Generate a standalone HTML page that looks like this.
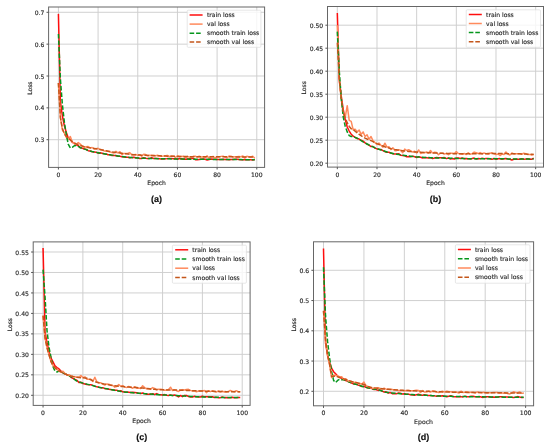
<!DOCTYPE html>
<html><head><meta charset="utf-8"><style>
html,body{margin:0;padding:0;background:#fff;}
svg{display:block;}
text{font-family:'DejaVu Sans', 'Liberation Sans', sans-serif;fill:#2a2a2a;stroke:#2a2a2a;stroke-width:0.15px;text-rendering:geometricPrecision;}
.gr{stroke:#cecece;stroke-width:0.95;}
.sp{fill:none;stroke:#666;stroke-width:1;}
.tk{stroke:#555;stroke-width:1;}
.lg{fill:#fff;fill-opacity:0.8;stroke:#dcdcdc;stroke-width:0.7;}
.sub{font-family:'Liberation Sans',Arial,sans-serif;font-weight:bold;font-size:9px;fill:#111;stroke:#111;stroke-width:0.15px;}
</style></head><body>
<svg width="550" height="445" viewBox="0 0 550 445">
<g><line x1="58.42" y1="7" x2="58.42" y2="167.4" class="gr"/>
<line x1="98.09" y1="7" x2="98.09" y2="167.4" class="gr"/>
<line x1="137.76" y1="7" x2="137.76" y2="167.4" class="gr"/>
<line x1="177.43" y1="7" x2="177.43" y2="167.4" class="gr"/>
<line x1="217.1" y1="7" x2="217.1" y2="167.4" class="gr"/>
<line x1="256.77" y1="7" x2="256.77" y2="167.4" class="gr"/>
<line x1="48.6" y1="139.7" x2="264.6" y2="139.7" class="gr"/>
<line x1="48.6" y1="107.85" x2="264.6" y2="107.85" class="gr"/>
<line x1="48.6" y1="76" x2="264.6" y2="76" class="gr"/>
<line x1="48.6" y1="44.15" x2="264.6" y2="44.15" class="gr"/>
<line x1="48.6" y1="12.3" x2="264.6" y2="12.3" class="gr"/>
<polyline points="58.42,13.89 60.4,101.48 62.39,116 64.37,125.74 66.35,132.39 68.34,138.28 70.32,139.41 72.3,142.2 74.29,143.41 76.27,144.97 78.25,145.56 80.24,147.8 82.22,148.09 84.2,148.99 86.19,149.28 88.17,150.76 90.15,151 92.14,151.76 94.12,151.9 96.1,152.14 98.09,153.14 100.07,152.75 102.05,153.2 104.04,153.68 106.02,153.88 108,154.75 109.99,154.86 111.97,155.44 113.96,155.5 115.94,155.49 117.92,156.19 119.91,156.34 121.89,156.7 123.87,157.01 125.86,157.19 127.84,157.18 129.82,157.77 131.81,157.48 133.79,157.16 135.77,157.64 137.76,158.08 139.74,158.42 141.72,158.45 143.71,157.67 145.69,158.32 147.67,158.62 149.66,158.39 151.64,157.78 153.62,158.52 155.61,158.39 157.59,158.55 159.58,158.81 161.56,159.13 163.54,158.89 165.53,158.87 167.51,158.62 169.49,158.56 171.48,158.56 173.46,158.81 175.44,158.63 177.43,159.23 179.41,158.56 181.39,158.84 183.38,159.16 185.36,158.91 187.34,159.13 189.33,158.73 191.31,158.62 193.29,158.41 195.28,159.69 197.26,159.73 199.24,159.42 201.23,159.21 203.21,158.98 205.2,159.2 207.18,160.04 209.16,159.46 211.15,159.08 213.13,159.31 215.11,159.14 217.1,159.5 219.08,159.51 221.06,159.4 223.05,159.33 225.03,159.43 227.01,159.47 229,159.76 230.98,159.41 232.96,159.52 234.95,159.18 236.93,159.17 238.91,159.54 240.9,159.75 242.88,159.86 244.86,159.5 246.85,159.63 248.83,159.79 250.81,159.67 252.8,159.91 254.78,159.46" fill="none" stroke="#ff0d0d" stroke-width="1.5" stroke-linejoin="round"/>
<polyline points="58.42,83.01 60.4,117.44 62.39,129.78 64.37,133.03 66.35,137.54 68.34,138.89 70.32,136.55 72.3,142.27 74.29,143.49 76.27,144.47 78.25,142.57 80.24,144.16 82.22,146.05 84.2,147.25 86.19,146.77 88.17,146.57 90.15,147.88 92.14,147.51 94.12,148.9 96.1,148.76 98.09,148.33 100.07,149.57 102.05,149.76 104.04,150.92 106.02,150.97 108,151.3 109.99,151.88 111.97,152.54 113.96,152.99 115.94,151.29 117.92,152.91 119.91,151.75 121.89,154.67 123.87,153.45 125.86,153.54 127.84,153.19 129.82,152.63 131.81,154.9 133.79,154.64 135.77,154.52 137.76,155.17 139.74,154.66 141.72,156.27 143.71,154.3 145.69,154.53 147.67,155.64 149.66,155.17 151.64,155.56 153.62,155.17 155.61,155.67 157.59,155.21 159.58,156.07 161.56,156.14 163.54,156.05 165.53,155.83 167.51,155.41 169.49,156.58 171.48,155.98 173.46,156.21 175.44,157.45 177.43,155.71 179.41,156.53 181.39,156.51 183.38,156.34 185.36,157.73 187.34,156.56 189.33,157 191.31,157.47 193.29,156.37 195.28,156.27 197.26,157.09 199.24,156.25 201.23,156.97 203.21,156.73 205.2,157.41 207.18,155.89 209.16,158.33 211.15,156.86 213.13,156.42 215.11,157.99 217.1,156.94 219.08,156.88 221.06,156.37 223.05,156.13 225.03,157.09 227.01,157.65 229,156.08 230.98,156.17 232.96,157.14 234.95,156.68 236.93,156.66 238.91,156.56 240.9,156.77 242.88,156.08 244.86,157.89 246.85,156.3 248.83,156.68 250.81,157.02 252.8,156.23 254.78,158.24" fill="none" stroke="#ff8a5c" stroke-width="1.5" stroke-linejoin="round"/>
<polyline points="58.42,33.96 60.4,79.18 62.39,104.66 64.37,122.18 66.35,134.92 68.34,144.48 70.32,147.98 72.3,147.34 74.29,145.75 76.27,145.43 78.25,146.39 80.24,147.66 82.22,147.98 84.2,148.85 86.19,149.67 88.17,150.37 90.15,150.94 92.14,151.46 94.12,151.92 96.1,152.35 98.09,152.76 100.07,153.15 102.05,153.51 104.04,153.86 106.02,154.19 108,154.51 109.99,154.82 111.97,155.12 113.96,155.4 115.94,155.68 117.92,155.94 119.91,156.2 121.89,156.46 123.87,156.71 125.86,156.95 127.84,157.18 129.82,157.38 131.81,157.56 133.79,157.74 135.77,157.9 137.76,158.01 139.74,158.11 141.72,158.19 143.71,158.27 145.69,158.34 147.67,158.4 149.66,158.46 151.64,158.51 153.62,158.56 155.61,158.61 157.59,158.65 159.58,158.69 161.56,158.73 163.54,158.76 165.53,158.8 167.51,158.83 169.49,158.86 171.48,158.89 173.46,158.91 175.44,158.94 177.43,158.97 179.41,159 181.39,159.02 183.38,159.05 185.36,159.08 187.34,159.1 189.33,159.13 191.31,159.15 193.29,159.18 195.28,159.2 197.26,159.23 199.24,159.25 201.23,159.27 203.21,159.29 205.2,159.31 207.18,159.33 209.16,159.35 211.15,159.37 213.13,159.39 215.11,159.41 217.1,159.43 219.08,159.44 221.06,159.46 223.05,159.48 225.03,159.49 227.01,159.51 229,159.53 230.98,159.54 232.96,159.56 234.95,159.57 236.93,159.59 238.91,159.6 240.9,159.62 242.88,159.63 244.86,159.64 246.85,159.66 248.83,159.67 250.81,159.68 252.8,159.69 254.78,159.7" fill="none" stroke="#05961c" stroke-width="1.5" stroke-dasharray="4.6,1.9" stroke-linejoin="round"/>
<polyline points="58.42,83.01 60.4,117.4 62.39,128.55 64.37,133.97 66.35,136.51 68.34,138.4 70.32,140.02 72.3,141.56 74.29,142.88 76.27,143.95 78.25,144.8 80.24,145.47 82.22,146.07 84.2,146.61 86.19,147.08 88.17,147.5 90.15,147.87 92.14,148.18 94.12,148.47 96.1,148.76 98.09,149.1 100.07,149.48 102.05,149.91 104.04,150.35 106.02,150.78 108,151.17 109.99,151.52 111.97,151.85 113.96,152.17 115.94,152.48 117.92,152.76 119.91,153.03 121.89,153.28 123.87,153.52 125.86,153.75 127.84,153.97 129.82,154.19 131.81,154.41 133.79,154.64 135.77,154.84 137.76,154.99 139.74,155.1 141.72,155.2 143.71,155.29 145.69,155.37 147.67,155.45 149.66,155.52 151.64,155.58 153.62,155.65 155.61,155.72 157.59,155.78 159.58,155.86 161.56,155.93 163.54,156 165.53,156.08 167.51,156.15 169.49,156.21 171.48,156.28 173.46,156.33 175.44,156.38 177.43,156.42 179.41,156.46 181.39,156.49 183.38,156.52 185.36,156.56 187.34,156.59 189.33,156.62 191.31,156.64 193.29,156.67 195.28,156.69 197.26,156.72 199.24,156.74 201.23,156.75 203.21,156.77 205.2,156.78 207.18,156.79 209.16,156.8 211.15,156.81 213.13,156.82 215.11,156.82 217.1,156.83 219.08,156.84 221.06,156.84 223.05,156.85 225.03,156.86 227.01,156.86 229,156.87 230.98,156.87 232.96,156.87 234.95,156.88 236.93,156.88 238.91,156.89 240.9,156.89 242.88,156.89 244.86,156.89 246.85,156.9 248.83,156.9 250.81,156.9 252.8,156.9 254.78,156.9" fill="none" stroke="#c4561a" stroke-width="1.5" stroke-dasharray="4.6,1.9" stroke-linejoin="round"/>
<rect x="48.6" y="7" width="216" height="160.4" class="sp"/>
<line x1="58.42" y1="167.4" x2="58.42" y2="169.5" class="tk"/>
<text x="58.42" y="176.8" text-anchor="middle" font-size="6.05">0</text>
<line x1="98.09" y1="167.4" x2="98.09" y2="169.5" class="tk"/>
<text x="98.09" y="176.8" text-anchor="middle" font-size="6.05">20</text>
<line x1="137.76" y1="167.4" x2="137.76" y2="169.5" class="tk"/>
<text x="137.76" y="176.8" text-anchor="middle" font-size="6.05">40</text>
<line x1="177.43" y1="167.4" x2="177.43" y2="169.5" class="tk"/>
<text x="177.43" y="176.8" text-anchor="middle" font-size="6.05">60</text>
<line x1="217.1" y1="167.4" x2="217.1" y2="169.5" class="tk"/>
<text x="217.1" y="176.8" text-anchor="middle" font-size="6.05">80</text>
<line x1="256.77" y1="167.4" x2="256.77" y2="169.5" class="tk"/>
<text x="256.77" y="176.8" text-anchor="middle" font-size="6.05">100</text>
<line x1="46.5" y1="139.7" x2="48.6" y2="139.7" class="tk"/>
<text x="44.3" y="142.3" text-anchor="end" font-size="6.05">0.3</text>
<line x1="46.5" y1="107.85" x2="48.6" y2="107.85" class="tk"/>
<text x="44.3" y="110.45" text-anchor="end" font-size="6.05">0.4</text>
<line x1="46.5" y1="76" x2="48.6" y2="76" class="tk"/>
<text x="44.3" y="78.6" text-anchor="end" font-size="6.05">0.5</text>
<line x1="46.5" y1="44.15" x2="48.6" y2="44.15" class="tk"/>
<text x="44.3" y="46.75" text-anchor="end" font-size="6.05">0.6</text>
<line x1="46.5" y1="12.3" x2="48.6" y2="12.3" class="tk"/>
<text x="44.3" y="14.9" text-anchor="end" font-size="6.05">0.7</text>
<text x="156.6" y="185.3" text-anchor="middle" font-size="6.05">Epoch</text>
<text transform="translate(31.6,88.2) rotate(-90)" x="0" y="0" text-anchor="middle" font-size="6.05">Loss</text>
<rect x="187.2" y="10.2" width="73.7" height="37.1" rx="1" class="lg"/>
<line x1="189.6" y1="15" x2="202.6" y2="15" stroke="#ff0d0d" stroke-width="1.5"/>
<text x="207" y="17.1" font-size="6.05">train loss</text>
<line x1="189.6" y1="24.1" x2="202.6" y2="24.1" stroke="#ff8a5c" stroke-width="1.5"/>
<text x="207" y="26.2" font-size="6.05">val loss</text>
<line x1="189.6" y1="33.2" x2="202.6" y2="33.2" stroke="#05961c" stroke-width="1.5" stroke-dasharray="4.6,1.9"/>
<text x="207" y="35.3" font-size="6.05">smooth train loss</text>
<line x1="189.6" y1="42.1" x2="202.6" y2="42.1" stroke="#c4561a" stroke-width="1.5" stroke-dasharray="4.6,1.9"/>
<text x="207" y="44.2" font-size="6.05">smooth val loss</text>
<text x="156.6" y="202.1" text-anchor="middle" class="sub">(a)</text></g>
<g><line x1="337.32" y1="6.5" x2="337.32" y2="167.1" class="gr"/>
<line x1="376.99" y1="6.5" x2="376.99" y2="167.1" class="gr"/>
<line x1="416.66" y1="6.5" x2="416.66" y2="167.1" class="gr"/>
<line x1="456.33" y1="6.5" x2="456.33" y2="167.1" class="gr"/>
<line x1="496" y1="6.5" x2="496" y2="167.1" class="gr"/>
<line x1="535.67" y1="6.5" x2="535.67" y2="167.1" class="gr"/>
<line x1="327.5" y1="163.2" x2="543.5" y2="163.2" class="gr"/>
<line x1="327.5" y1="140.2" x2="543.5" y2="140.2" class="gr"/>
<line x1="327.5" y1="117.2" x2="543.5" y2="117.2" class="gr"/>
<line x1="327.5" y1="94.2" x2="543.5" y2="94.2" class="gr"/>
<line x1="327.5" y1="71.2" x2="543.5" y2="71.2" class="gr"/>
<line x1="327.5" y1="48.2" x2="543.5" y2="48.2" class="gr"/>
<line x1="327.5" y1="25.2" x2="543.5" y2="25.2" class="gr"/>
<polyline points="337.32,13.01 339.3,80.24 341.29,96.46 343.27,109.61 345.25,119.6 347.24,126.99 349.22,131.03 351.2,134.2 353.19,136.08 355.17,137.36 357.15,138.61 359.14,139.01 361.12,140.28 363.1,141.18 365.09,142.89 367.07,144.12 369.05,145.19 371.04,146.53 373.02,146.51 375,148.12 376.99,148.92 378.97,149.29 380.95,149.4 382.94,150.56 384.92,151.69 386.9,152.19 388.89,152.25 390.87,153.04 392.86,153.73 394.84,153.95 396.82,153.96 398.81,153.84 400.79,155.36 402.77,155.45 404.76,155.82 406.74,156.7 408.72,156.42 410.71,156.7 412.69,156.13 414.67,156.78 416.66,157.5 418.64,156.8 420.62,157.3 422.61,157.93 424.59,157.62 426.57,157.72 428.56,157.92 430.54,157.67 432.52,158.59 434.51,157.94 436.49,157.54 438.48,157.66 440.46,157.63 442.44,157.68 444.43,157.6 446.41,158.61 448.39,157.93 450.38,158.97 452.36,158.55 454.34,159.08 456.33,158.03 458.31,157.97 460.29,158.58 462.28,157.9 464.26,158.85 466.24,158.59 468.23,158.63 470.21,159.11 472.19,158.59 474.18,158.06 476.16,159.16 478.14,158.46 480.13,158.85 482.11,158.15 484.1,158.63 486.08,158.56 488.06,158.58 490.05,158.72 492.03,159.33 494.01,158.31 496,159.33 497.98,158.75 499.96,158.62 501.95,159.16 503.93,158.81 505.91,158.44 507.9,158.89 509.88,159.22 511.86,159.97 513.85,159.27 515.83,159.14 517.81,159.13 519.8,159.31 521.78,158.83 523.76,159.19 525.75,159.04 527.73,158.76 529.71,159.34 531.7,159.15 533.68,158.27" fill="none" stroke="#ff0d0d" stroke-width="1.5" stroke-linejoin="round"/>
<polyline points="337.32,25.2 339.3,80.4 341.29,98.8 343.27,112.6 345.25,117.2 347.24,105.7 349.22,120.42 351.2,121.34 353.19,129.8 355.17,129.16 357.15,131.92 359.14,130.08 361.12,134.22 363.1,131.92 365.09,136.52 367.07,134.68 369.05,139.25 371.04,136.54 373.02,140.83 375,142.59 376.99,144.46 378.97,143.11 380.95,145.23 382.94,147.13 384.92,143.16 386.9,147.16 388.89,146.68 390.87,149.54 392.86,147.74 394.84,150.64 396.82,150.4 398.81,149.71 400.79,150.41 402.77,152.67 404.76,149.12 406.74,150.51 408.72,149.69 410.71,150.87 412.69,152.03 414.67,151.31 416.66,153.06 418.64,149.98 420.62,153.48 422.61,152.48 424.59,152.68 426.57,152.01 428.56,153.01 430.54,150.47 432.52,153.09 434.51,152.31 436.49,152.43 438.48,154.68 440.46,153.21 442.44,153.3 444.43,154.05 446.41,153.34 448.39,154.76 450.38,153.16 452.36,153.25 454.34,153.46 456.33,151.67 458.31,153.44 460.29,153.68 462.28,154.35 464.26,153.51 466.24,154.55 468.23,152.71 470.21,154.3 472.19,153.64 474.18,152.12 476.16,152.81 478.14,153.56 480.13,152.6 482.11,153.77 484.1,153.03 486.08,153.64 488.06,154.37 490.05,153.23 492.03,152.79 494.01,153.83 496,154.45 497.98,153.98 499.96,155.52 501.95,154.07 503.93,154.48 505.91,151.94 507.9,154.11 509.88,154.95 511.86,152.98 513.85,153.88 515.83,153.73 517.81,153.66 519.8,153.69 521.78,154.24 523.76,153.21 525.75,153.65 527.73,154.58 529.71,154.4 531.7,155.14 533.68,154.23" fill="none" stroke="#ff8a5c" stroke-width="1.5" stroke-linejoin="round"/>
<polyline points="337.32,31.64 339.3,71.2 341.29,98.8 343.27,117.2 345.25,126.4 347.24,131.92 349.22,135.6 351.2,136.52 353.19,136.52 355.17,137.44 357.15,138.13 359.14,139.33 361.12,140.61 363.1,141.81 365.09,142.91 367.07,143.97 369.05,144.99 371.04,145.96 373.02,146.87 375,147.71 376.99,148.48 378.97,149.22 380.95,149.94 382.94,150.65 384.92,151.31 386.9,151.93 388.89,152.48 390.87,152.98 392.86,153.44 394.84,153.86 396.82,154.23 398.81,154.57 400.79,154.9 402.77,155.22 404.76,155.52 406.74,155.81 408.72,156.08 410.71,156.32 412.69,156.54 414.67,156.74 416.66,156.9 418.64,157.04 420.62,157.17 422.61,157.29 424.59,157.4 426.57,157.5 428.56,157.6 430.54,157.68 432.52,157.77 434.51,157.84 436.49,157.91 438.48,157.97 440.46,158.04 442.44,158.09 444.43,158.14 446.41,158.19 448.39,158.24 450.38,158.29 452.36,158.33 454.34,158.37 456.33,158.42 458.31,158.46 460.29,158.51 462.28,158.55 464.26,158.6 466.24,158.64 468.23,158.68 470.21,158.72 472.19,158.75 474.18,158.77 476.16,158.78 478.14,158.79 480.13,158.8 482.11,158.8 484.1,158.81 486.08,158.81 488.06,158.81 490.05,158.82 492.03,158.82 494.01,158.82 496,158.83 497.98,158.84 499.96,158.84 501.95,158.85 503.93,158.86 505.91,158.87 507.9,158.88 509.88,158.89 511.86,158.9 513.85,158.91 515.83,158.93 517.81,158.94 519.8,158.95 521.78,158.97 523.76,158.98 525.75,159 527.73,159.01 529.71,159.03 531.7,159.04 533.68,159.06" fill="none" stroke="#05961c" stroke-width="1.5" stroke-dasharray="4.6,1.9" stroke-linejoin="round"/>
<polyline points="337.32,42.68 339.3,78.1 341.29,98.8 343.27,112.6 345.25,118.12 347.24,122.72 349.22,126.4 351.2,128.7 353.19,129.62 355.17,131.23 357.15,132.84 359.14,134.31 361.12,135.72 363.1,137.01 365.09,138.13 367.07,139.04 369.05,139.82 371.04,140.66 373.02,141.65 375,142.7 376.99,143.65 378.97,144.49 380.95,145.29 382.94,146.06 384.92,146.79 386.9,147.46 388.89,148.08 390.87,148.62 392.86,149.1 394.84,149.51 396.82,149.86 398.81,150.16 400.79,150.45 402.77,150.71 404.76,150.97 406.74,151.2 408.72,151.42 410.71,151.62 412.69,151.81 414.67,151.97 416.66,152.11 418.64,152.24 420.62,152.36 422.61,152.47 424.59,152.57 426.57,152.67 428.56,152.76 430.54,152.84 432.52,152.92 434.51,153 436.49,153.08 438.48,153.16 440.46,153.24 442.44,153.33 444.43,153.41 446.41,153.49 448.39,153.56 450.38,153.62 452.36,153.67 454.34,153.71 456.33,153.72 458.31,153.73 460.29,153.74 462.28,153.75 464.26,153.75 466.24,153.76 468.23,153.76 470.21,153.77 472.19,153.77 474.18,153.77 476.16,153.77 478.14,153.76 480.13,153.75 482.11,153.72 484.1,153.69 486.08,153.66 488.06,153.62 490.05,153.59 492.03,153.56 494.01,153.55 496,153.54 497.98,153.54 499.96,153.55 501.95,153.57 503.93,153.59 505.91,153.61 507.9,153.64 509.88,153.67 511.86,153.7 513.85,153.73 515.83,153.77 517.81,153.81 519.8,153.87 521.78,153.93 523.76,154 525.75,154.08 527.73,154.17 529.71,154.26 531.7,154.36 533.68,154.46" fill="none" stroke="#c4561a" stroke-width="1.5" stroke-dasharray="4.6,1.9" stroke-linejoin="round"/>
<rect x="327.5" y="6.5" width="216" height="160.6" class="sp"/>
<line x1="337.32" y1="167.1" x2="337.32" y2="169.2" class="tk"/>
<text x="337.32" y="176.5" text-anchor="middle" font-size="6.05">0</text>
<line x1="376.99" y1="167.1" x2="376.99" y2="169.2" class="tk"/>
<text x="376.99" y="176.5" text-anchor="middle" font-size="6.05">20</text>
<line x1="416.66" y1="167.1" x2="416.66" y2="169.2" class="tk"/>
<text x="416.66" y="176.5" text-anchor="middle" font-size="6.05">40</text>
<line x1="456.33" y1="167.1" x2="456.33" y2="169.2" class="tk"/>
<text x="456.33" y="176.5" text-anchor="middle" font-size="6.05">60</text>
<line x1="496" y1="167.1" x2="496" y2="169.2" class="tk"/>
<text x="496" y="176.5" text-anchor="middle" font-size="6.05">80</text>
<line x1="535.67" y1="167.1" x2="535.67" y2="169.2" class="tk"/>
<text x="535.67" y="176.5" text-anchor="middle" font-size="6.05">100</text>
<line x1="325.4" y1="163.2" x2="327.5" y2="163.2" class="tk"/>
<text x="323.2" y="165.8" text-anchor="end" font-size="6.05">0.20</text>
<line x1="325.4" y1="140.2" x2="327.5" y2="140.2" class="tk"/>
<text x="323.2" y="142.8" text-anchor="end" font-size="6.05">0.25</text>
<line x1="325.4" y1="117.2" x2="327.5" y2="117.2" class="tk"/>
<text x="323.2" y="119.8" text-anchor="end" font-size="6.05">0.30</text>
<line x1="325.4" y1="94.2" x2="327.5" y2="94.2" class="tk"/>
<text x="323.2" y="96.8" text-anchor="end" font-size="6.05">0.35</text>
<line x1="325.4" y1="71.2" x2="327.5" y2="71.2" class="tk"/>
<text x="323.2" y="73.8" text-anchor="end" font-size="6.05">0.40</text>
<line x1="325.4" y1="48.2" x2="327.5" y2="48.2" class="tk"/>
<text x="323.2" y="50.8" text-anchor="end" font-size="6.05">0.45</text>
<line x1="325.4" y1="25.2" x2="327.5" y2="25.2" class="tk"/>
<text x="323.2" y="27.8" text-anchor="end" font-size="6.05">0.50</text>
<text x="435.5" y="185" text-anchor="middle" font-size="6.05">Epoch</text>
<text transform="translate(306.2,87.8) rotate(-90)" x="0" y="0" text-anchor="middle" font-size="6.05">Loss</text>
<rect x="466.2" y="9.8" width="74.3" height="37.5" rx="1" class="lg"/>
<line x1="468.8" y1="14.5" x2="481.8" y2="14.5" stroke="#ff0d0d" stroke-width="1.5"/>
<text x="486.1" y="16.6" font-size="6.05">train loss</text>
<line x1="468.8" y1="23.5" x2="481.8" y2="23.5" stroke="#ff8a5c" stroke-width="1.5"/>
<text x="486.1" y="25.6" font-size="6.05">val loss</text>
<line x1="468.8" y1="32.6" x2="481.8" y2="32.6" stroke="#05961c" stroke-width="1.5" stroke-dasharray="4.6,1.9"/>
<text x="486.1" y="34.7" font-size="6.05">smooth train loss</text>
<line x1="468.8" y1="41.8" x2="481.8" y2="41.8" stroke="#c4561a" stroke-width="1.5" stroke-dasharray="4.6,1.9"/>
<text x="486.1" y="43.9" font-size="6.05">smooth val loss</text>
<text x="435.5" y="202.1" text-anchor="middle" class="sub">(b)</text></g>
<g><line x1="43.06" y1="241.9" x2="43.06" y2="405.4" class="gr"/>
<line x1="82.89" y1="241.9" x2="82.89" y2="405.4" class="gr"/>
<line x1="122.73" y1="241.9" x2="122.73" y2="405.4" class="gr"/>
<line x1="162.56" y1="241.9" x2="162.56" y2="405.4" class="gr"/>
<line x1="202.4" y1="241.9" x2="202.4" y2="405.4" class="gr"/>
<line x1="242.23" y1="241.9" x2="242.23" y2="405.4" class="gr"/>
<line x1="33.2" y1="395.3" x2="250.1" y2="395.3" class="gr"/>
<line x1="33.2" y1="374.83" x2="250.1" y2="374.83" class="gr"/>
<line x1="33.2" y1="354.36" x2="250.1" y2="354.36" class="gr"/>
<line x1="33.2" y1="333.89" x2="250.1" y2="333.89" class="gr"/>
<line x1="33.2" y1="313.42" x2="250.1" y2="313.42" class="gr"/>
<line x1="33.2" y1="292.95" x2="250.1" y2="292.95" class="gr"/>
<line x1="33.2" y1="272.48" x2="250.1" y2="272.48" class="gr"/>
<line x1="33.2" y1="252.01" x2="250.1" y2="252.01" class="gr"/>
<polyline points="43.06,248.08 45.05,331.98 47.04,342.72 49.03,351.6 51.03,358 53.02,361.9 55.01,365.79 57,367.51 58.99,368.95 60.98,371.08 62.98,373.07 64.97,373.8 66.96,374.78 68.95,375.28 70.94,377.27 72.94,378.38 74.93,379.31 76.92,380.33 78.91,382.52 80.9,382.26 82.89,383.5 84.89,383.99 86.88,384.49 88.87,384.79 90.86,384.7 92.85,385.34 94.84,386.16 96.84,386.86 98.83,387.19 100.82,387.66 102.81,387.69 104.8,388.64 106.79,388.75 108.79,389.16 110.78,389.53 112.77,389.81 114.76,390.24 116.75,390.17 118.75,391.12 120.74,390.78 122.73,391.82 124.72,392.13 126.71,392.12 128.7,392.21 130.7,392.43 132.69,392.19 134.68,392.42 136.67,392.85 138.66,393.35 140.65,393.41 142.65,392.95 144.64,393.59 146.63,394.37 148.62,394.26 150.61,394.36 152.6,393.79 154.6,394.44 156.59,393.6 158.58,394.38 160.57,394.72 162.56,395.07 164.55,394.6 166.55,395.21 168.54,395.55 170.53,395.07 172.52,395.4 174.51,395.02 176.51,395.64 178.5,396.89 180.49,395.51 182.48,396.72 184.47,395.44 186.46,395.45 188.46,396.48 190.45,396.9 192.44,397.1 194.43,396.27 196.42,396.8 198.41,397.05 200.41,396.98 202.4,396.08 204.39,396.85 206.38,396.74 208.37,396.78 210.36,396.73 212.36,396.76 214.35,397.53 216.34,397.37 218.33,397.64 220.32,397.66 222.32,396.94 224.31,397.65 226.3,397.51 228.29,397.79 230.28,397.77 232.27,397.23 234.27,397.75 236.26,397.78 238.25,397.39 240.24,397.39" fill="none" stroke="#ff0d0d" stroke-width="1.5" stroke-linejoin="round"/>
<polyline points="43.06,269.61 45.05,297.04 47.04,331.02 49.03,347.4 51.03,357.64 53.02,366.64 55.01,371.15 57,371.96 58.99,371.15 60.98,371.55 62.98,372.58 64.97,373.72 66.96,374.64 68.95,375.53 70.94,376.59 72.94,378.09 74.93,379.78 76.92,381.09 78.91,381.9 80.9,382.53 82.89,383.1 84.89,383.64 86.88,384.14 88.87,384.61 90.86,385.11 92.85,385.64 94.84,386.18 96.84,386.71 98.83,387.19 100.82,387.62 102.81,388.01 104.8,388.38 106.79,388.75 108.79,389.12 110.78,389.51 112.77,389.91 114.76,390.32 116.75,390.71 118.75,391.08 120.74,391.42 122.73,391.7 124.72,391.94 126.71,392.16 128.7,392.36 130.7,392.54 132.69,392.72 134.68,392.89 136.67,393.05 138.66,393.21 140.65,393.37 142.65,393.53 144.64,393.68 146.63,393.83 148.62,393.98 150.61,394.12 152.6,394.26 154.6,394.39 156.59,394.52 158.58,394.65 160.57,394.77 162.56,394.89 164.55,395 166.55,395.11 168.54,395.21 170.53,395.31 172.52,395.4 174.51,395.5 176.51,395.61 178.5,395.72 180.49,395.84 182.48,395.95 184.47,396.07 186.46,396.19 188.46,396.31 190.45,396.42 192.44,396.53 194.43,396.63 196.42,396.72 198.41,396.81 200.41,396.88 202.4,396.94 204.39,396.99 206.38,397.04 208.37,397.09 210.36,397.14 212.36,397.19 214.35,397.24 216.34,397.29 218.33,397.33 220.32,397.37 222.32,397.41 224.31,397.45 226.3,397.48 228.29,397.51 230.28,397.53 232.27,397.55 234.27,397.57 236.26,397.58 238.25,397.59 240.24,397.59" fill="none" stroke="#05961c" stroke-width="1.5" stroke-dasharray="4.6,1.9" stroke-linejoin="round"/>
<polyline points="43.06,315.59 45.05,337.98 47.04,347.81 49.03,354.77 51.03,361.73 53.02,365.41 55.01,367.87 57,369.51 58.99,370.74 60.98,372.21 62.98,371.26 64.97,373.51 66.96,374.96 68.95,374.67 70.94,375.99 72.94,376.42 74.93,376.84 76.92,377.31 78.91,377.08 80.9,375.54 82.89,377.63 84.89,376.86 86.88,379.2 88.87,379.19 90.86,379.25 92.85,381.54 94.84,377.29 96.84,381.73 98.83,382.85 100.82,382.87 102.81,384.07 104.8,385.09 106.79,383.95 108.79,384.24 110.78,385.09 112.77,385.48 114.76,387.13 116.75,386.53 118.75,384.48 120.74,386.28 122.73,385.71 124.72,387.13 126.71,387.45 128.7,386.45 130.7,387.28 132.69,388.22 134.68,386.65 136.67,388.14 138.66,388.09 140.65,388.57 142.65,385.8 144.64,387.58 146.63,388.75 148.62,388.46 150.61,389.24 152.6,387.61 154.6,388.35 156.59,389.89 158.58,389.3 160.57,389.13 162.56,389.53 164.55,390.35 166.55,389.98 168.54,389.42 170.53,387.17 172.52,390.51 174.51,389.69 176.51,390.69 178.5,391.48 180.49,390.04 182.48,389.61 184.47,390.03 186.46,389.45 188.46,389.36 190.45,390.37 192.44,391.12 194.43,390.82 196.42,391.82 198.41,390.98 200.41,391.08 202.4,390.97 204.39,390.42 206.38,392.58 208.37,390.75 210.36,391.64 212.36,390.82 214.35,391.27 216.34,392.11 218.33,390.9 220.32,392 222.32,391.22 224.31,391.99 226.3,391.95 228.29,391.6 230.28,390.45 232.27,391.28 234.27,391.77 236.26,390.69 238.25,391.78 240.24,392.01" fill="none" stroke="#ff8a5c" stroke-width="1.5" stroke-linejoin="round"/>
<polyline points="43.06,315.59 45.05,337.98 47.04,347.81 49.03,354.77 51.03,361.73 53.02,365.41 55.01,367.87 57,369.51 58.99,370.74 60.98,371.92 62.98,372.99 64.97,373.9 66.96,374.74 68.95,375.48 70.94,376.06 72.94,376.51 74.93,376.89 76.92,377.21 78.91,377.49 80.9,377.7 82.89,377.87 84.89,378.05 86.88,378.31 88.87,378.88 90.86,379.79 92.85,380.77 94.84,381.59 96.84,382.19 98.83,382.73 100.82,383.22 102.81,383.68 104.8,384.12 106.79,384.51 108.79,384.86 110.78,385.17 112.77,385.46 114.76,385.73 116.75,385.99 118.75,386.22 120.74,386.43 122.73,386.62 124.72,386.79 126.71,386.94 128.7,387.07 130.7,387.2 132.69,387.32 134.68,387.45 136.67,387.58 138.66,387.73 140.65,387.89 142.65,388.08 144.64,388.29 146.63,388.5 148.62,388.72 150.61,388.93 152.6,389.14 154.6,389.33 156.59,389.5 158.58,389.64 160.57,389.75 162.56,389.81 164.55,389.85 166.55,389.88 168.54,389.9 170.53,389.92 172.52,389.95 174.51,389.98 176.51,390.02 178.5,390.08 180.49,390.15 182.48,390.23 184.47,390.32 186.46,390.41 188.46,390.5 190.45,390.6 192.44,390.7 194.43,390.79 196.42,390.87 198.41,390.95 200.41,391.02 202.4,391.08 204.39,391.14 206.38,391.19 208.37,391.24 210.36,391.29 212.36,391.34 214.35,391.39 216.34,391.43 218.33,391.48 220.32,391.52 222.32,391.56 224.31,391.6 226.3,391.64 228.29,391.67 230.28,391.7 232.27,391.73 234.27,391.76 236.26,391.78 238.25,391.8 240.24,391.82" fill="none" stroke="#c4561a" stroke-width="1.5" stroke-dasharray="4.6,1.9" stroke-linejoin="round"/>
<rect x="33.2" y="241.9" width="216.9" height="163.5" class="sp"/>
<line x1="43.06" y1="405.4" x2="43.06" y2="407.5" class="tk"/>
<text x="43.06" y="414.8" text-anchor="middle" font-size="6.1">0</text>
<line x1="82.89" y1="405.4" x2="82.89" y2="407.5" class="tk"/>
<text x="82.89" y="414.8" text-anchor="middle" font-size="6.1">20</text>
<line x1="122.73" y1="405.4" x2="122.73" y2="407.5" class="tk"/>
<text x="122.73" y="414.8" text-anchor="middle" font-size="6.1">40</text>
<line x1="162.56" y1="405.4" x2="162.56" y2="407.5" class="tk"/>
<text x="162.56" y="414.8" text-anchor="middle" font-size="6.1">60</text>
<line x1="202.4" y1="405.4" x2="202.4" y2="407.5" class="tk"/>
<text x="202.4" y="414.8" text-anchor="middle" font-size="6.1">80</text>
<line x1="242.23" y1="405.4" x2="242.23" y2="407.5" class="tk"/>
<text x="242.23" y="414.8" text-anchor="middle" font-size="6.1">100</text>
<line x1="31.1" y1="395.3" x2="33.2" y2="395.3" class="tk"/>
<text x="28.9" y="397.9" text-anchor="end" font-size="6.1">0.20</text>
<line x1="31.1" y1="374.83" x2="33.2" y2="374.83" class="tk"/>
<text x="28.9" y="377.43" text-anchor="end" font-size="6.1">0.25</text>
<line x1="31.1" y1="354.36" x2="33.2" y2="354.36" class="tk"/>
<text x="28.9" y="356.96" text-anchor="end" font-size="6.1">0.30</text>
<line x1="31.1" y1="333.89" x2="33.2" y2="333.89" class="tk"/>
<text x="28.9" y="336.49" text-anchor="end" font-size="6.1">0.35</text>
<line x1="31.1" y1="313.42" x2="33.2" y2="313.42" class="tk"/>
<text x="28.9" y="316.02" text-anchor="end" font-size="6.1">0.40</text>
<line x1="31.1" y1="292.95" x2="33.2" y2="292.95" class="tk"/>
<text x="28.9" y="295.55" text-anchor="end" font-size="6.1">0.45</text>
<line x1="31.1" y1="272.48" x2="33.2" y2="272.48" class="tk"/>
<text x="28.9" y="275.08" text-anchor="end" font-size="6.1">0.50</text>
<line x1="31.1" y1="252.01" x2="33.2" y2="252.01" class="tk"/>
<text x="28.9" y="254.61" text-anchor="end" font-size="6.1">0.55</text>
<text x="141.65" y="423.3" text-anchor="middle" font-size="6.1">Epoch</text>
<text transform="translate(12.3,324.65) rotate(-90)" x="0" y="0" text-anchor="middle" font-size="6.1">Loss</text>
<rect x="172.4" y="245.2" width="74" height="38" rx="1" class="lg"/>
<line x1="175.2" y1="249.8" x2="188.2" y2="249.8" stroke="#ff0d0d" stroke-width="1.5"/>
<text x="192.3" y="251.9" font-size="6.1">train loss</text>
<line x1="175.2" y1="259" x2="188.2" y2="259" stroke="#05961c" stroke-width="1.5" stroke-dasharray="4.6,1.9"/>
<text x="192.3" y="261.1" font-size="6.1">smooth train loss</text>
<line x1="175.2" y1="268.2" x2="188.2" y2="268.2" stroke="#ff8a5c" stroke-width="1.5"/>
<text x="192.3" y="270.3" font-size="6.1">val loss</text>
<line x1="175.2" y1="277.6" x2="188.2" y2="277.6" stroke="#c4561a" stroke-width="1.5" stroke-dasharray="4.6,1.9"/>
<text x="192.3" y="279.7" font-size="6.1">smooth val loss</text>
<text x="141.65" y="440.1" text-anchor="middle" class="sub">(c)</text></g>
<g><line x1="323.5" y1="241.8" x2="323.5" y2="405.8" class="gr"/>
<line x1="363.93" y1="241.8" x2="363.93" y2="405.8" class="gr"/>
<line x1="404.35" y1="241.8" x2="404.35" y2="405.8" class="gr"/>
<line x1="444.77" y1="241.8" x2="444.77" y2="405.8" class="gr"/>
<line x1="485.19" y1="241.8" x2="485.19" y2="405.8" class="gr"/>
<line x1="525.62" y1="241.8" x2="525.62" y2="405.8" class="gr"/>
<line x1="313.5" y1="391.3" x2="533.6" y2="391.3" class="gr"/>
<line x1="313.5" y1="361.05" x2="533.6" y2="361.05" class="gr"/>
<line x1="313.5" y1="330.8" x2="533.6" y2="330.8" class="gr"/>
<line x1="313.5" y1="300.55" x2="533.6" y2="300.55" class="gr"/>
<line x1="313.5" y1="270.3" x2="533.6" y2="270.3" class="gr"/>
<polyline points="323.5,248.52 325.53,343.04 327.55,354.99 329.57,362.44 331.59,368.25 333.61,371.64 335.63,373.86 337.65,376.1 339.67,376.75 341.69,378.18 343.72,379.69 345.74,380.56 347.76,381.26 349.78,382.3 351.8,383.05 353.82,384.11 355.84,384.16 357.86,384.91 359.88,385.48 361.91,386.62 363.93,386.23 365.95,387.24 367.97,387.92 369.99,387.66 372.01,388.69 374.03,389.46 376.05,389.47 378.07,390.42 380.1,389.89 382.12,391.18 384.14,392.04 386.16,391.86 388.18,393 390.2,392.61 392.22,393.64 394.24,393.42 396.26,393.76 398.29,393.12 400.31,393.19 402.33,393.97 404.35,393.77 406.37,394.23 408.39,394.14 410.41,394.67 412.43,395.09 414.45,395.23 416.48,394.69 418.5,394.23 420.52,394.94 422.54,395.28 424.56,394.65 426.58,395.27 428.6,395.42 430.62,395.49 432.65,395.71 434.67,395.87 436.69,396.32 438.71,395.83 440.73,396.09 442.75,395.78 444.77,396.31 446.79,396.83 448.81,396.33 450.84,395.83 452.86,396.5 454.88,396.69 456.9,396.82 458.92,396.81 460.94,396.62 462.96,396.92 464.98,396.14 467,396.71 469.03,396.63 471.05,396.26 473.07,396.27 475.09,396.82 477.11,396.68 479.13,396.59 481.15,396.9 483.17,397.41 485.19,396.7 487.22,396.65 489.24,396.82 491.26,397.26 493.28,397.06 495.3,397.21 497.32,397.14 499.34,396.69 501.36,396.64 503.38,396.93 505.41,396.99 507.43,396.97 509.45,397.2 511.47,397.25 513.49,397.45 515.51,397.28 517.53,396.6 519.55,397.05 521.57,397.43 523.6,397.49" fill="none" stroke="#ff0d0d" stroke-width="1.5" stroke-linejoin="round"/>
<polyline points="323.5,267.28 325.53,315.68 327.55,341.39 329.57,358.03 331.59,371.64 333.61,380.41 335.63,382.53 337.65,380.41 339.67,379.2 341.69,379.81 343.72,379.5 345.74,380.51 347.76,381.41 349.78,382.23 351.8,382.98 353.82,383.67 355.84,384.32 357.86,384.95 359.88,385.56 361.91,386.16 363.93,386.73 365.95,387.28 367.97,387.8 369.99,388.28 372.01,388.68 374.03,389.02 376.05,389.35 378.07,389.73 380.1,390.21 382.12,391.05 384.14,391.81 386.16,392.18 388.18,392.5 390.2,392.78 392.22,393.01 394.24,393.22 396.26,393.4 398.29,393.57 400.31,393.72 402.33,393.87 404.35,394.02 406.37,394.17 408.39,394.31 410.41,394.45 412.43,394.57 414.45,394.69 416.48,394.8 418.5,394.91 420.52,395.02 422.54,395.13 424.56,395.23 426.58,395.34 428.6,395.45 430.62,395.56 432.65,395.67 434.67,395.78 436.69,395.88 438.71,395.98 440.73,396.06 442.75,396.14 444.77,396.2 446.79,396.25 448.81,396.3 450.84,396.35 452.86,396.39 454.88,396.42 456.9,396.46 458.92,396.49 460.94,396.53 462.96,396.56 464.98,396.59 467,396.63 469.03,396.66 471.05,396.69 473.07,396.72 475.09,396.75 477.11,396.78 479.13,396.81 481.15,396.84 483.17,396.87 485.19,396.9 487.22,396.92 489.24,396.95 491.26,396.98 493.28,397 495.3,397.03 497.32,397.05 499.34,397.08 501.36,397.1 503.38,397.13 505.41,397.15 507.43,397.18 509.45,397.2 511.47,397.22 513.49,397.24 515.51,397.27 517.53,397.29 519.55,397.31 521.57,397.33 523.6,397.35" fill="none" stroke="#05961c" stroke-width="1.5" stroke-dasharray="4.6,1.9" stroke-linejoin="round"/>
<polyline points="323.5,310.79 325.53,339.38 327.55,355.88 329.57,364.7 331.59,377.52 333.61,375.08 335.63,375.39 337.65,375.76 339.67,377.33 341.69,376.65 343.72,379.43 345.74,378.67 347.76,380.71 349.78,381.16 351.8,381.66 353.82,382.43 355.84,382.18 357.86,383.12 359.88,383.47 361.91,384.01 363.93,382.07 365.95,385.66 367.97,386.53 369.99,386.99 372.01,388.31 374.03,388.09 376.05,387.88 378.07,387.8 380.1,388.45 382.12,389 384.14,388.23 386.16,389.17 388.18,389.23 390.2,389.33 392.22,389.61 394.24,389.99 396.26,389.67 398.29,390.56 400.31,390.39 402.33,390.47 404.35,390.82 406.37,390.46 408.39,390.52 410.41,390.64 412.43,390.83 414.45,390.59 416.48,390.14 418.5,390.53 420.52,392.48 422.54,390.62 424.56,392.06 426.58,392.1 428.6,391.31 430.62,392.07 432.65,390.83 434.67,391.3 436.69,392.07 438.71,392.52 440.73,391.7 442.75,391.35 444.77,391.92 446.79,391.16 448.81,391.82 450.84,391.74 452.86,392.28 454.88,392.01 456.9,392.32 458.92,393.11 460.94,391.17 462.96,392.39 464.98,392.31 467,391.79 469.03,392.38 471.05,392.36 473.07,392.3 475.09,393.04 477.11,391.86 479.13,392.42 481.15,392.89 483.17,392.21 485.19,392.5 487.22,393.12 489.24,392.64 491.26,392.73 493.28,392.61 495.3,392.61 497.32,392.48 499.34,393.37 501.36,392.85 503.38,393.29 505.41,392.67 507.43,393.52 509.45,393.93 511.47,393.15 513.49,391.82 515.51,392.47 517.53,392.97 519.55,391.9 521.57,393.13 523.6,393.14" fill="none" stroke="#ff8a5c" stroke-width="1.5" stroke-linejoin="round"/>
<polyline points="323.5,310.84 325.53,339.88 327.55,355 329.57,364.08 331.59,376.48 333.61,376.18 335.63,376.18 337.65,376.76 339.67,377.69 341.69,378.31 343.72,378.9 345.74,379.54 347.76,380.2 349.78,380.86 351.8,381.49 353.82,382.07 355.84,382.57 357.86,383.01 359.88,383.44 361.91,383.92 363.93,384.49 365.95,385.39 367.97,386.45 369.99,387.19 372.01,387.56 374.03,387.87 376.05,388.12 378.07,388.33 380.1,388.52 382.12,388.7 384.14,388.88 386.16,389.07 388.18,389.24 390.2,389.42 392.22,389.58 394.24,389.74 396.26,389.89 398.29,390.03 400.31,390.16 402.33,390.28 404.35,390.39 406.37,390.49 408.39,390.59 410.41,390.68 412.43,390.76 414.45,390.84 416.48,390.91 418.5,390.98 420.52,391.06 422.54,391.13 424.56,391.21 426.58,391.29 428.6,391.37 430.62,391.46 432.65,391.54 434.67,391.62 436.69,391.7 438.71,391.78 440.73,391.85 442.75,391.91 444.77,391.97 446.79,392.02 448.81,392.06 450.84,392.1 452.86,392.15 454.88,392.18 456.9,392.22 458.92,392.26 460.94,392.29 462.96,392.32 464.98,392.36 467,392.39 469.03,392.43 471.05,392.46 473.07,392.49 475.09,392.52 477.11,392.55 479.13,392.58 481.15,392.61 483.17,392.64 485.19,392.66 487.22,392.69 489.24,392.71 491.26,392.74 493.28,392.76 495.3,392.78 497.32,392.81 499.34,392.83 501.36,392.85 503.38,392.87 505.41,392.89 507.43,392.91 509.45,392.93 511.47,392.95 513.49,392.97 515.51,392.99 517.53,393.01 519.55,393.02 521.57,393.04 523.6,393.05" fill="none" stroke="#c4561a" stroke-width="1.5" stroke-dasharray="4.6,1.9" stroke-linejoin="round"/>
<rect x="313.5" y="241.8" width="220.1" height="164" class="sp"/>
<line x1="323.5" y1="405.8" x2="323.5" y2="407.9" class="tk"/>
<text x="323.5" y="415.2" text-anchor="middle" font-size="6.16">0</text>
<line x1="363.93" y1="405.8" x2="363.93" y2="407.9" class="tk"/>
<text x="363.93" y="415.2" text-anchor="middle" font-size="6.16">20</text>
<line x1="404.35" y1="405.8" x2="404.35" y2="407.9" class="tk"/>
<text x="404.35" y="415.2" text-anchor="middle" font-size="6.16">40</text>
<line x1="444.77" y1="405.8" x2="444.77" y2="407.9" class="tk"/>
<text x="444.77" y="415.2" text-anchor="middle" font-size="6.16">60</text>
<line x1="485.19" y1="405.8" x2="485.19" y2="407.9" class="tk"/>
<text x="485.19" y="415.2" text-anchor="middle" font-size="6.16">80</text>
<line x1="525.62" y1="405.8" x2="525.62" y2="407.9" class="tk"/>
<text x="525.62" y="415.2" text-anchor="middle" font-size="6.16">100</text>
<line x1="311.4" y1="391.3" x2="313.5" y2="391.3" class="tk"/>
<text x="309.2" y="393.9" text-anchor="end" font-size="6.16">0.2</text>
<line x1="311.4" y1="361.05" x2="313.5" y2="361.05" class="tk"/>
<text x="309.2" y="363.65" text-anchor="end" font-size="6.16">0.3</text>
<line x1="311.4" y1="330.8" x2="313.5" y2="330.8" class="tk"/>
<text x="309.2" y="333.4" text-anchor="end" font-size="6.16">0.4</text>
<line x1="311.4" y1="300.55" x2="313.5" y2="300.55" class="tk"/>
<text x="309.2" y="303.15" text-anchor="end" font-size="6.16">0.5</text>
<line x1="311.4" y1="270.3" x2="313.5" y2="270.3" class="tk"/>
<text x="309.2" y="272.9" text-anchor="end" font-size="6.16">0.6</text>
<text x="423.55" y="423.7" text-anchor="middle" font-size="6.16">Epoch</text>
<text transform="translate(296.2,324.8) rotate(-90)" x="0" y="0" text-anchor="middle" font-size="6.16">Loss</text>
<rect x="455.4" y="244.8" width="74.6" height="38.4" rx="1" class="lg"/>
<line x1="457.9" y1="249.5" x2="470.9" y2="249.5" stroke="#ff0d0d" stroke-width="1.5"/>
<text x="474.9" y="251.6" font-size="6.16">train loss</text>
<line x1="457.9" y1="258.7" x2="470.9" y2="258.7" stroke="#05961c" stroke-width="1.5" stroke-dasharray="4.6,1.9"/>
<text x="474.9" y="260.8" font-size="6.16">smooth train loss</text>
<line x1="457.9" y1="268" x2="470.9" y2="268" stroke="#ff8a5c" stroke-width="1.5"/>
<text x="474.9" y="270.1" font-size="6.16">val loss</text>
<line x1="457.9" y1="277.3" x2="470.9" y2="277.3" stroke="#c4561a" stroke-width="1.5" stroke-dasharray="4.6,1.9"/>
<text x="474.9" y="279.4" font-size="6.16">smooth val loss</text>
<text x="423.55" y="440.1" text-anchor="middle" class="sub">(d)</text></g>
</svg>
</body></html>
